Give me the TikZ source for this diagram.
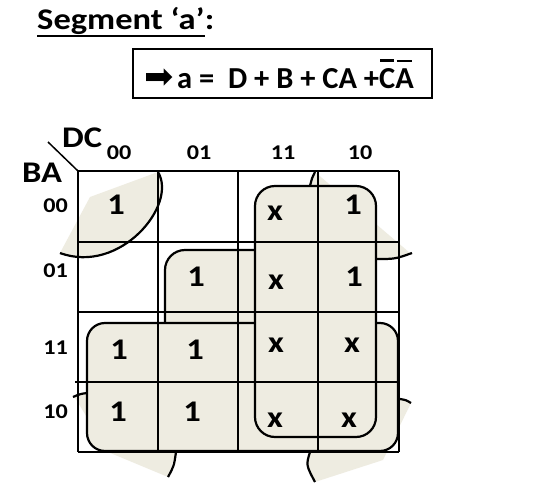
\documentclass[tikz,border=0pt]{standalone}
\usepackage{fontspec}
\setmainfont{Carlito}
\newfontfamily\widefont{Carlito}[FakeStretch=1.15]
\newfontfamily\arrowfont{DejaVu Sans}
\usetikzlibrary{positioning}

\definecolor{groupfill}{HTML}{EEECE1}
\newcommand{\notbar}[1]{\setbox0\hbox{#1}\rlap{\kern0.08\wd0\rule[\dimexpr\ht0+0.2em\relax]{0.84\wd0}{0.08em}}\box0}

\tikzset{
  gridline/.style={line width=1.5},
  group/.style={fill=groupfill, draw=black, line width=2.2},
  loopend/.style={line width=2.2},
  cell/.style={font=\widefont\fontsize{30}{36}\selectfont\bfseries, inner sep=0, anchor=base},
  axis/.style={font=\widefont\fontsize{21}{24}\selectfont\bfseries, inner sep=0},
  var/.style={font=\widefont\fontsize{30}{36}\selectfont\bfseries, inner sep=0, anchor=base west},
}

\begin{document}
\begin{tikzpicture}[x=1pt,y=-1pt]
\useasboundingbox[fill=white] (0,0) rectangle (558,496);

% Title
\node[var] (title) at (37,29) {Segment ‘a’};
\node[var] (colon) at (title.base east) {:};
\draw[line width=2] ([yshift=-7pt]title.base west) -- ([yshift=-7pt]title.base east);

% Equation
\draw[line width=1.8] (133,49) rectangle (432,98);
\node[var, font=\arrowfont\fontsize{35}{36}\selectfont] (arrow) at (144,88) {➡};
\node[var, font=\fontsize{30.5}{36}\selectfont\bfseries] (eq) at (177,88) {a =\ \ D + B + CA +\notbar{C}\notbar{A}};

% Corner loop (fills)
\fill[groupfill] (158,172) -- (90,197) -- (60,253) .. controls (120,275) and (178,205) .. (158,172) -- cycle;
\fill[groupfill] (315,172) -- (410,253) .. controls (395,259) .. (377,259) -- (300,259) -- (300,186) -- (310,186) -- cycle;
\fill[groupfill] (74,396) -- (108,452) -- (168,477) .. controls (172,465) .. (176,452) -- (176,393) -- (87,393) -- cycle;
\fill[groupfill] (400,399) -- (411,403) -- (383,460) -- (315,482) .. controls (306,465) .. (310,452) -- (310,399) -- cycle;

% Groups
\draw[group, rounded corners=20] (165,250) rectangle (300,380);
\draw[group, rounded corners=18] (87,323) rectangle (398,451);
\draw[group, rounded corners=20] (255,186) rectangle (376,437);

% Grid
\draw[gridline] (78,171) -- (78,452);
\draw[gridline] (158,171) -- (158,452);
\draw[gridline] (238,171) -- (238,452);
\draw[gridline] (318,171) -- (318,452);
\draw[gridline] (399,171) -- (399,452);
\draw[gridline] (78,171) -- (399,171);
\draw[gridline] (78,242) -- (399,242);
\draw[gridline] (78,312) -- (399,312);
\draw[gridline] (75,382) -- (399,382);
\draw[gridline] (78,452) -- (399,452);

% Corner loop (ends)
\draw[loopend] (158,172) .. controls (178,205) and (120,275) .. (60,253);
\draw[loopend] (315,172) .. controls (312,178) .. (310,186);
\draw[loopend] (377,259) .. controls (395,259) .. (412,253);
\draw[loopend] (73,397) .. controls (80,394) .. (87,393);
\draw[loopend] (176,452) .. controls (174,466) .. (168,477);
\draw[loopend] (400,399) .. controls (406,400) .. (411,403);
\draw[loopend] (310,452) .. controls (306,465) .. (315,482);

% Variables
\coordinate (corner) at (78,171);
\coordinate (slash) at (48,142);
\draw[line width=1.5] (corner) -- (slash);
\node[var] (dc) at (62,147) {DC};
\node[var] (ba) at (22,182) {BA};

\node[axis, anchor=base] (c00) at (119,159) {00};
\node[axis, anchor=base] (c01) at (199,159) {01};
\node[axis, anchor=base] (c11) at (283,159) {11};
\node[axis, anchor=base] (c10) at (360,159) {10};

\node[axis, anchor=base east] (r00) at (68,212) {00};
\node[axis, anchor=base east] (r01) at (68,277) {01};
\node[axis, anchor=base east] (r11) at (68,354) {11};
\node[axis, anchor=base east] (r10) at (68,418) {10};

% Cells
\node[cell] (r00c00) at (116,214) {1};
\node[cell] (r00c11) at (275,220) {x};
\node[cell] (r00c10) at (353,214) {1};
\node[cell] (r01c01) at (196,286) {1};
\node[cell] (r01c11) at (276,289) {x};
\node[cell] (r01c10) at (354,286) {1};
\node[cell] (r11c00) at (119,359) {1};
\node[cell] (r11c01) at (195,359) {1};
\node[cell] (r11c11) at (276,352) {x};
\node[cell] (r11c10) at (352,352) {x};
\node[cell] (r10c00) at (118,421) {1};
\node[cell] (r10c01) at (192,421) {1};
\node[cell] (r10c11) at (275,427) {x};
\node[cell] (r10c10) at (349,427) {x};

\end{tikzpicture}
\end{document}
